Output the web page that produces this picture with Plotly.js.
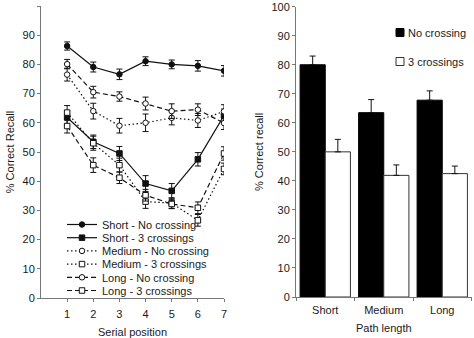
<!DOCTYPE html>
<html>
<head>
<meta charset="utf-8">
<script src="https://cdn.plot.ly/plotly-3.0.1.min.js"></script>
<style>html,body{margin:0;padding:0;background:#fff;}#chart{width:474px;height:338px;}</style>
</head>
<body>
<div id="chart"></div>
<script>
// ---- Left panel data: serial position curves ----
const serialPositions = [1, 2, 3, 4, 5, 6, 7];
const shortNoCross   = [86.3, 79.1, 76.6, 81.1, 80.0, 79.5, 77.8];
const shortNoErr     = [1.4, 1.7, 1.8, 1.5, 1.5, 1.8, 1.8];
const short3Cross    = [61.8, 53.5, 49.5, 39.2, 36.7, 47.5, 62.5];
const short3Err      = [2.2, 2.3, 2.4, 2.7, 2.5, 2.3, 2.2];
const mediumNoCross  = [76.5, 64.0, 59.0, 60.0, 61.7, 60.8, 63.9];
const mediumNoErr    = [2.2, 2.7, 2.5, 3.0, 2.4, 2.4, 2.3];
const medium3Cross   = [63.5, 53.0, 45.5, 33.0, 32.5, 26.6, 44.2];
const medium3Err     = [2.4, 2.4, 2.4, 2.3, 1.8, 2.0, 2.0];
const longNoCross    = [80.1, 70.5, 69.0, 66.6, 64.0, 64.5, 59.9];
const longNoErr      = [1.6, 2.0, 1.6, 2.2, 2.5, 2.0, 2.2];
const long3Cross     = [58.9, 45.5, 41.2, 35.2, 32.2, 30.9, 49.5];
const long3Err       = [2.4, 2.5, 2.0, 2.0, 1.6, 2.0, 2.3];
const lineNames = ['Short - No crossing', 'Short - 3 crossings', 'Medium - No crossing',
                   'Medium - 3 crossings', 'Long - No crossing', 'Long - 3 crossings'];

// ---- Right panel data: path length means ----
const pathLengths   = ['Short', 'Medium', 'Long'];
const barNoCross    = [80.0, 63.5, 67.8];
const barNoErr      = [3.0, 4.5, 3.2];
const bar3Cross     = [50.0, 41.9, 42.5];
const bar3Err       = [4.3, 3.6, 2.6];
const barNames      = ['No crossing', '3 crossings'];
const yTicks        = [0, 10, 20, 30, 40, 50, 60, 70, 80, 90, 100];

const FONT = 'Liberation Sans, Arial, sans-serif';
const TXT = '#1a1a1a';

function lineTrace(y, err, name, dash, symbol, filled) {
  return {
    type: 'scatter', mode: 'lines+markers', x: serialPositions, y: y, name: name,
    xaxis: 'x', yaxis: 'y', legend: 'legend',
    line: {color: '#111', width: 1.2, dash: dash},
    marker: {symbol: symbol, size: 5.5, color: filled ? '#111' : '#fff',
             line: {color: '#111', width: 1}},
    error_y: {type: 'data', array: err, visible: true, color: '#111', thickness: 1, width: 3}
  };
}

const traces = [
  lineTrace(shortNoCross, shortNoErr, lineNames[0], 'solid', 'circle', true),
  lineTrace(short3Cross, short3Err, lineNames[1], 'solid', 'square', true),
  lineTrace(mediumNoCross, mediumNoErr, lineNames[2], '1.5px,2.5px', 'circle', false),
  lineTrace(medium3Cross, medium3Err, lineNames[3], '1.5px,2.5px', 'square', false),
  lineTrace(longNoCross, longNoErr, lineNames[4], '5px,3px', 'circle', false),
  lineTrace(long3Cross, long3Err, lineNames[5], '5px,3px', 'square', false),
  {
    type: 'bar', x: pathLengths, y: barNoCross, name: barNames[0],
    xaxis: 'x2', yaxis: 'y2', legend: 'legend2', legendgroup: 'a',
    marker: {color: '#000', line: {color: '#000', width: 1}},
    error_y: {type: 'data', symmetric: false, array: barNoErr, arrayminus: [0, 0, 0],
              color: '#111', thickness: 1, width: 3}
  },
  {
    type: 'bar', x: pathLengths, y: bar3Cross, name: barNames[1],
    xaxis: 'x2', yaxis: 'y2', legend: 'legend2', legendgroup: 'b',
    marker: {color: '#fff', line: {color: '#333', width: 1}},
    error_y: {type: 'data', symmetric: false, array: bar3Err, arrayminus: [0, 0, 0],
              color: '#111', thickness: 1, width: 3}
  }
];

const axisCommon = {
  showgrid: false, zeroline: false, showline: true, linecolor: '#777', linewidth: 1,
  ticks: 'outside', ticklen: 3, tickcolor: '#777', tickwidth: 1,
  tickfont: {family: FONT, size: 11, color: TXT}, fixedrange: true
};

const layout = {
  width: 474, height: 338,
  margin: {l: 0, r: 0, t: 0, b: 0, autoexpand: false},
  paper_bgcolor: '#fff', plot_bgcolor: 'rgba(0,0,0,0)',
  font: {family: FONT, size: 11, color: TXT},
  barmode: 'group', bargap: 0.14, bargroupgap: 0,
  xaxis: Object.assign({}, axisCommon, {
    domain: [41/474, 224/474], range: [0, 7], tickvals: serialPositions,
    anchor: 'y', ticklabelstandoff: 3,
    title: {text: 'Serial position', font: {family: FONT, size: 11, color: TXT}, standoff: 9}
  }),
  yaxis: Object.assign({}, axisCommon, {
    domain: [1 - 298/338, 1 - 6/338], range: [0, 100], tickvals: yTicks,
    anchor: 'x', title: {text: '% Correct Recall', font: {family: FONT, size: 11, color: TXT}, standoff: 5}
  }),
  xaxis2: Object.assign({}, axisCommon, {
    domain: [296/474, 471.5/474], range: [-0.5, 2.5], type: 'category',
    tickson: 'boundaries', anchor: 'y2', ticklabelstandoff: 3,
    title: {text: 'Path length', font: {family: FONT, size: 11, color: TXT}, standoff: 9}
  }),
  yaxis2: Object.assign({}, axisCommon, {
    domain: [1 - 297/338, 1 - 6.7/338], range: [0, 100], tickvals: yTicks,
    anchor: 'x2', title: {text: '% Correct recall', font: {family: FONT, size: 11, color: TXT}, standoff: 5}
  }),
  legend: {
    x: 62/474, y: 1 - 210/338, xanchor: 'left', yanchor: 'top',
    bgcolor: 'rgba(0,0,0,0)', borderwidth: 0,
    font: {family: FONT, size: 11, color: TXT}, tracegroupgap: 0
  },
  legend2: {
    x: 368/474, y: 1 - 18/338, xanchor: 'left', yanchor: 'top',
    bgcolor: 'rgba(0,0,0,0)', borderwidth: 0,
    font: {family: FONT, size: 11, color: TXT}, tracegroupgap: 10
  },
  showlegend: true
};

function tweakLegends() {
  const all = document.querySelectorAll('g.traces');
  let y0 = null, i = 0;
  all.forEach(function (el) {
    const txt = el.querySelector('text');
    const name = txt ? txt.textContent.trim() : '';
    if (barNames.indexOf(name) >= 0) {
      // right legend: smaller square moved next to the text
      const pts = el.querySelector('g.legendpoints');
      if (pts) {
        pts.setAttribute('transform', 'translate(12,0)');
        pts.querySelectorAll('path').forEach(function (p) {
          p.setAttribute('d', 'M4,4H-4V-4H4Z');
          p.style.strokeWidth = '1px';
        });
      }
    } else if (lineNames.indexOf(name) >= 0) {
      // left legend: tighter row spacing
      const t = el.getAttribute('transform') || '';
      const m = t.match(/translate\(([-\d.]+)[,\s]+([-\d.]+)\)/);
      if (!m) return;
      if (!el.getAttribute('data-y')) el.setAttribute('data-y', m[2]);
      const yy = parseFloat(el.getAttribute('data-y'));
      if (y0 === null) y0 = yy;
      el.setAttribute('transform', 'translate(' + m[1] + ',' + (y0 + i * 13.2) + ')');
      i++;
    }
  });
}

Plotly.newPlot('chart', traces, layout, {displayModeBar: false, staticPlot: true}).then(function () {
  tweakLegends();
  setTimeout(tweakLegends, 50);
  setTimeout(tweakLegends, 300);
});
</script>
</body>
</html>
